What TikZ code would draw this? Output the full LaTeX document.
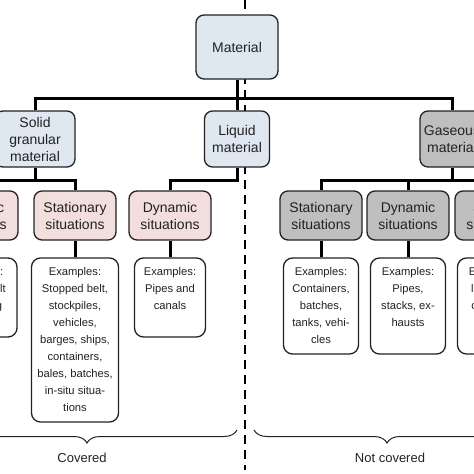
\documentclass[tikz,border=0pt]{standalone}
\usepackage{fontspec}
\setmainfont{Liberation Sans}
\usetikzlibrary{decorations.pathreplacing}
\definecolor{bluef}{HTML}{DFE7F1}
\definecolor{pinkf}{HTML}{F2DEDD}
\definecolor{greyf}{HTML}{BFBFBF}
\definecolor{ink}{HTML}{222222}
\begin{document}
\begin{tikzpicture}[x=1pt,y=-1pt,
  box/.style={draw=ink, line width=1.3pt, rounded corners=8pt, align=center,
    text=ink, inner sep=0pt, font=\fontsize{14}{17}\selectfont},
  topbox/.style={box, fill=bluef, minimum width=82pt, minimum height=64pt},
  matbox/.style={box, fill=bluef, minimum height=56pt},
  gasbox/.style={box, fill=greyf, minimum height=56pt},
  sitpink/.style={box, fill=pinkf, minimum width=82pt, minimum height=49pt},
  sitgrey/.style={box, fill=greyf, minimum width=82pt, minimum height=49pt},
  exbox/.style={draw=ink, line width=1.3pt, rounded corners=9pt, fill=white, inner sep=0pt},
  extext/.style={below=10pt, align=center, inner sep=0pt, text=ink,
    font=\fontsize{11.2}{17}\selectfont},
  conn/.style={line width=3pt, black},
  dashline/.style={line width=2.5pt, black, dash pattern=on 9pt off 6pt},
  bracestyle/.style={draw=ink, line width=1pt, decorate,
    decoration={brace, mirror, amplitude=13pt}},
  lbl/.style={text=ink, font=\fontsize{13}{15}\selectfont, inner sep=0pt}
]
\useasboundingbox (0,0) rectangle (474,474);
\clip (0,0) rectangle (474,474);

% dividing line
\coordinate (dtop) at (245,0);
\coordinate (dbot) at (245,470);
\draw[dashline] (dtop) -- (dbot);

% junction coordinates
\coordinate (j1) at (237,98);
\coordinate (j2) at (35,180);
\coordinate (j3) at (237,180);
\coordinate (j4) at (452,180);

% level 0 and 1
\node[topbox] (mat) at (237,47) {Material};
\node[matbox, minimum width=80pt] (solid) at (35,139) {Solid\\granular\\material};
\node[matbox, minimum width=65pt] (liquid) at (237,139) {Liquid\\material};
\node[gasbox, minimum width=64pt] (gas) at (452,139) {Gaseous\\material};

% level 2
\node[sitpink] (sdyn) at (-23,215.5) {Dynamic\\situations};
\node[sitpink] (sstat) at (75,215.5) {Stationary\\situations};
\node[sitpink] (ldyn) at (170,215.5) {Dynamic\\situations};
\node[sitgrey] (gstat) at (321,215.5) {Stationary\\situations};
\node[sitgrey] (gdyn) at (408,215.5) {Dynamic\\situations};
\node[sitgrey] (gsem) at (496,215.5) {Special\\situations};

% example boxes
\node[exbox, minimum width=80pt, minimum height=79pt] (sdynex) at (-23,297.5) {};
\node[extext] (sdynext) at (sdynex.north) {Examples:\\Moving belt\\conveying};
\node[exbox, minimum width=87pt, minimum height=164pt] (sstatex) at (75,340) {};
\node[extext] (sstatext) at (sstatex.north) {Examples:\\Stopped belt,\\stockpiles,\\vehicles,\\barges, ships,\\containers,\\bales, batches,\\in-situ situa-\\tions};
\node[exbox, minimum width=71pt, minimum height=79pt] (ldynex) at (170,297.5) {};
\node[extext] (ldynext) at (ldynex.north) {Examples:\\Pipes and\\canals};
\node[exbox, minimum width=75pt, minimum height=96pt] (gstatex) at (321,306) {};
\node[extext] (gstatext) at (gstatex.north) {Examples:\\Containers,\\batches,\\tanks, vehi-\\cles};
\node[exbox, minimum width=75pt, minimum height=96pt] (gdynex) at (408,306) {};
\node[extext] (gdynext) at (gdynex.north) {Examples:\\Pipes,\\stacks, ex-\\hausts};
\node[exbox, minimum width=75pt, minimum height=96pt] (gsemex) at (495,306) {};
\node[extext] (gsemext) at (gsemex.north) {Examples:\\leakages,\\chimneys};

% connectors level 0-1
\draw[conn] (mat.south) -- (j1);
\draw[conn] (solid.north) |- (j1) -| (gas.north);
\draw[conn] (j1) -- (liquid.north);

% connectors level 1-2
\draw[conn] (solid.south) -- (j2);
\draw[conn] (sdyn.north) |- (j2) -| (sstat.north);
\draw[conn] (liquid.south) -- (j3) -| (ldyn.north);
\draw[conn] (gas.south) -- (j4);
\draw[conn] (gstat.north) |- (j4) -| (gsem.north);
\draw[conn] (j4 -| gdyn.north) -- (gdyn.north);

% connectors level 2-3
\draw[conn] (sdyn.south) -- (sdynex.north);
\draw[conn] (sstat.south) -- (sstatex.north);
\draw[conn] (ldyn.south) -- (ldynex.north);
\draw[conn] (gstat.south) -- (gstatex.north);
\draw[conn] (gdyn.south) -- (gdynex.north);
\draw[conn] (gsem.south) -- (gsemex.north);

% braces
\coordinate (b1a) at (-63,430);
\coordinate (b1b) at (237,430);
\coordinate (b2a) at (254,430);
\coordinate (b2b) at (520,430);
\draw[bracestyle] (b1a) -- (b1b);
\draw[bracestyle] (b2a) -- (b2b);
\node[lbl] (cov) at (82,458) {Covered};
\node[lbl] (ncov) at (390,458) {Not covered};
\end{tikzpicture}
\end{document}
